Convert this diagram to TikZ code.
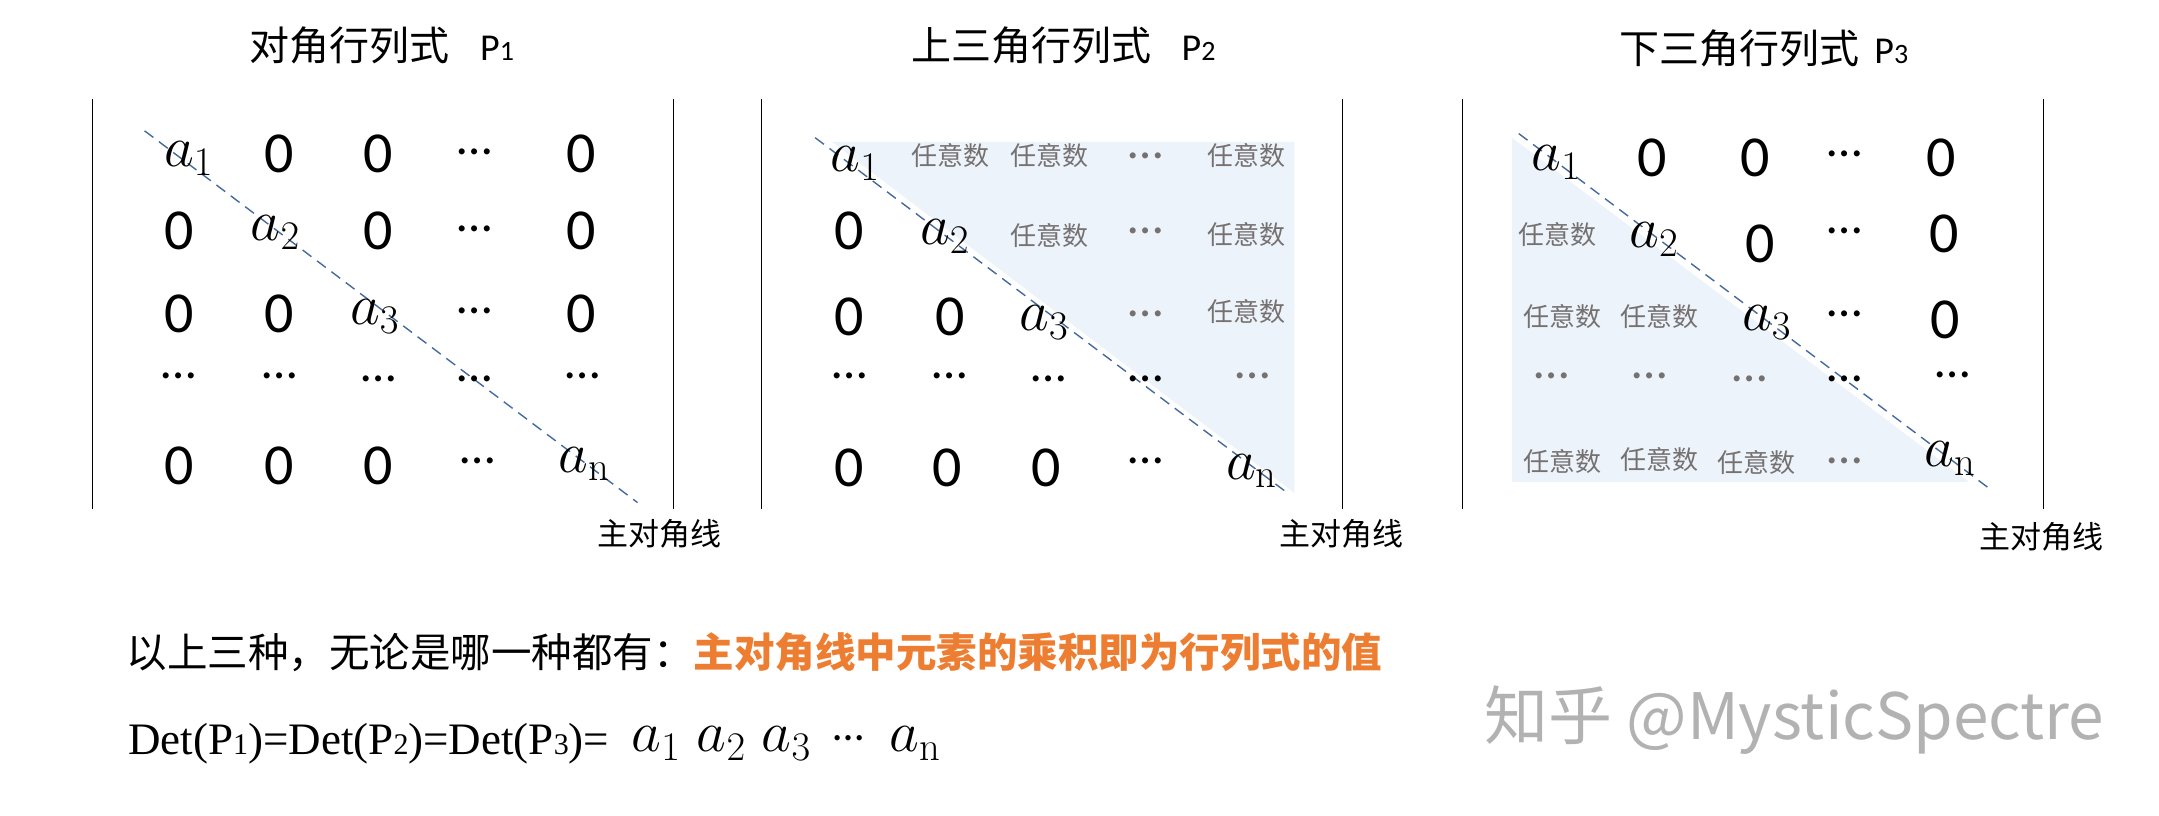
\RequirePackage{fix-cm}
\documentclass[tikz,border=0pt]{standalone}
\usepackage{fontspec}
\usetikzlibrary{positioning}
\newfontfamily\zhfont{Noto Sans CJK SC}
\newfontfamily\latfont{Carlito}
\newfontfamily\detfont{Liberation Serif}
\definecolor{anygray}{RGB}{118,113,113}
\definecolor{diagblue}{RGB}{68,106,160}
\definecolor{shadeblue}{RGB}{236,243,250}
\definecolor{keyorange}{RGB}{237,125,49}
\newcommand{\pname}[1]{P{\fontsize{28}{28}\selectfont #1}}
\newcommand{\detp}[1]{Det(P{\fontsize{30}{30}\selectfont #1})}

\tikzset{
	zero/.style={font=\latfont\fontsize{58}{58}\selectfont, inner sep=0pt},
	elem/.style={font=\fontsize{58}{58}\selectfont, inner sep=0pt},
	dts/.style={font=\latfont\fontsize{50}{50}\selectfont, inner sep=0pt},
	anyv/.style={font=\zhfont\fontsize{26}{26}\selectfont, text=anygray, inner sep=0pt},
	bar/.style={line width=1.4pt},
	maindiag/.style={draw=diagblue, line width=1.4pt, dash pattern=on 11pt off 7pt},
	ttl/.style={font=\zhfont\fontsize{40}{40}\selectfont, inner sep=0pt},
	psub/.style={font=\latfont\fontsize{38}{38}\selectfont, inner sep=0pt},
	diaglabel/.style={font=\zhfont\fontsize{31}{31}\selectfont, inner sep=0pt},
}

\begin{document}
\begin{tikzpicture}[x=1.377pt,y=-1.377pt]
\useasboundingbox (0,0) rectangle (1568,592);
% diagonal determinant P1
\begin{scope}[shift={(67,0)}]
	\coordinate (LT) at (0,72);
	\coordinate (LB) at (0,370);
	\coordinate (RT) at (422,72);
	\coordinate (RB) at (422,370);
	\draw[bar] (LT) -- (LB);
	\draw[bar] (RT) -- (RB);
	\coordinate (D0) at (38,95);
	\coordinate (D1) at (396,365);
	\draw[maindiag] (D0) -- (D1);
	\node[ttl] (t1) at (187,33) {对角行列式};
	\node[psub, base right=30pt of t1] (p1) {\pname{1}};
	\node (d11) [elem] at (70,115) {$a_1$};
	\node (d12) [zero] at (136,112) {0};
	\node (d13) [zero] at (208,112) {0};
	\node (d14) [dts] at (278,110) {…};
	\node (d15) [zero] at (355,112) {0};
	\node (d21) [zero] at (63,168) {0};
	\node (d22) [elem] at (133,169) {$a_2$};
	\node (d23) [zero] at (208,168) {0};
	\node (d24) [dts] at (278,166) {…};
	\node (d25) [zero] at (355,168) {0};
	\node (d31) [zero] at (63,228) {0};
	\node (d32) [zero] at (136,228) {0};
	\node (d33) [elem] at (205,230) {$a_3$};
	\node (d34) [dts] at (278,226) {…};
	\node (d35) [zero] at (355,228) {0};
	\node (d41) [dts] at (63,273) {…};
	\node (d42) [dts] at (136,273) {…};
	\node (d43) [dts] at (208,275) {…};
	\node (d44) [dts] at (278,275) {…};
	\node (d45) [dts] at (356,273) {…};
	\node (d51) [zero] at (63,338) {0};
	\node (d52) [zero] at (136,338) {0};
	\node (d53) [zero] at (208,338) {0};
	\node (d54) [dts] at (280,335) {…};
	\node (d55) [elem] at (357,337) {$a_{\mathrm{n}}$};
	\node[diaglabel] (m1) at (412,388) {主对角线};
\end{scope}
% upper triangular determinant P2
\begin{scope}[shift={(553,0)}]
	\fill[shadeblue] (51,103) -- (387,103) -- (387,358) -- cycle;
	\coordinate (LT) at (0,72);
	\coordinate (LB) at (0,370);
	\coordinate (RT) at (422,72);
	\coordinate (RB) at (422,370);
	\draw[bar] (LT) -- (LB);
	\draw[bar] (RT) -- (RB);
	\coordinate (D0) at (39,100);
	\coordinate (D1) at (382,358);
	\draw[maindiag] (D0) -- (D1);
	\node[ttl] (t2) at (196,33) {上三角行列式};
	\node[psub, base right=30pt of t2] (p2) {\pname{2}};
	\node (u11) [elem] at (68,119) {$a_1$};
	\node (u12) [anyv] at (137,113) {任意数};
	\node (u13) [anyv] at (209,113) {任意数};
	\node (u14) [dts, text=anygray] at (279,113) {…};
	\node (u15) [anyv] at (352,113) {任意数};
	\node (u21) [zero] at (64,168) {0};
	\node (u22) [elem] at (133,172) {$a_2$};
	\node (u23) [anyv] at (209,171) {任意数};
	\node (u24) [dts, text=anygray] at (279,168) {…};
	\node (u25) [anyv] at (352,170) {任意数};
	\node (u31) [zero] at (64,230) {0};
	\node (u32) [zero] at (137,230) {0};
	\node (u33) [elem] at (205,234) {$a_3$};
	\node (u34) [dts, text=anygray] at (279,228) {…};
	\node (u35) [anyv] at (352,226) {任意数};
	\node (u41) [dts] at (64,273) {…};
	\node (u42) [dts] at (137,273) {…};
	\node (u43) [dts] at (209,275) {…};
	\node (u44) [dts] at (279,275) {…};
	\node (u45) [dts, text=anygray] at (357,273) {…};
	\node (u51) [zero] at (64,340) {0};
	\node (u52) [zero] at (135,340) {0};
	\node (u53) [zero] at (207,340) {0};
	\node (u54) [dts] at (279,335) {…};
	\node (u55) [elem] at (356,342) {$a_{\mathrm{n}}$};
	\node[diaglabel] (m2) at (421,388) {主对角线};
\end{scope}
% lower triangular determinant P3
\begin{scope}[shift={(1062,0)}]
	\fill[shadeblue] (36,100) -- (36,350) -- (368,350) -- cycle;
	\coordinate (LT) at (0,72);
	\coordinate (LB) at (0,370);
	\coordinate (RT) at (422,72);
	\coordinate (RB) at (422,370);
	\draw[bar] (LT) -- (LB);
	\draw[bar] (RT) -- (RB);
	\coordinate (D0) at (41,97);
	\coordinate (D1) at (383,355);
	\draw[maindiag] (D0) -- (D1);
	\node[ttl] (t3) at (201,35) {下三角行列式};
	\node[psub, base right=15pt of t3] (p3) {\pname{3}};
	\node (l11) [elem] at (68,118) {$a_1$};
	\node (l12) [zero] at (138,115) {0};
	\node (l13) [zero] at (213,115) {0};
	\node (l14) [dts] at (278,112) {…};
	\node (l15) [zero] at (348,115) {0};
	\node (l21) [anyv] at (69,170) {任意数};
	\node (l22) [elem] at (139,174) {$a_2$};
	\node (l23) [zero] at (216,177) {0};
	\node (l24) [dts] at (278,168) {…};
	\node (l25) [zero] at (350,170) {0};
	\node (l31) [anyv] at (73,230) {任意数};
	\node (l32) [anyv] at (143,230) {任意数};
	\node (l33) [elem] at (221,234) {$a_3$};
	\node (l34) [dts] at (278,228) {…};
	\node (l35) [zero] at (351,232) {0};
	\node (l41) [dts, text=anygray] at (65,273) {…};
	\node (l42) [dts, text=anygray] at (136,273) {…};
	\node (l43) [dts, text=anygray] at (209,275) {…};
	\node (l44) [dts] at (278,275) {…};
	\node (l45) [dts] at (356,272) {…};
	\node (l51) [anyv] at (73,335) {任意数};
	\node (l52) [anyv] at (143,334) {任意数};
	\node (l53) [anyv] at (214,336) {任意数};
	\node (l54) [dts, text=anygray] at (278,335) {…};
	\node (l55) [elem] at (354,333) {$a_{\mathrm{n}}$};
	\node[diaglabel] (m3) at (421,390) {主对角线};
\end{scope}
% conclusion
\node[anchor=west, inner sep=0pt, font=\zhfont\fontsize{40.5}{40.5}\selectfont] (concl) at (92,474)
	{以上三种，无论是哪一种都有：{\color{keyorange}\bfseries 主对角线中元素的乘积即为行列式的值}};
\node[anchor=west, inner sep=0pt, font=\detfont\fontsize{45}{45}\selectfont] (det) at (93,540)
	{\detp{1}=\detp{2}=\detp{3}=};
\node[elem, right=22pt of det] (prod) {$a_1\mkern5mu a_2\mkern5mu a_3\mkern7mu\raisebox{0.2em}{\fontsize{44}{44}\latfont …}\mkern8mu a_{\mathrm{n}}$};
\node[font=\zhfont\fontsize{64}{64}\selectfont, text=black!30, inner sep=0pt] (mark) at (1303,523) {知乎 @MysticSpectre};
\end{tikzpicture}
\end{document}
